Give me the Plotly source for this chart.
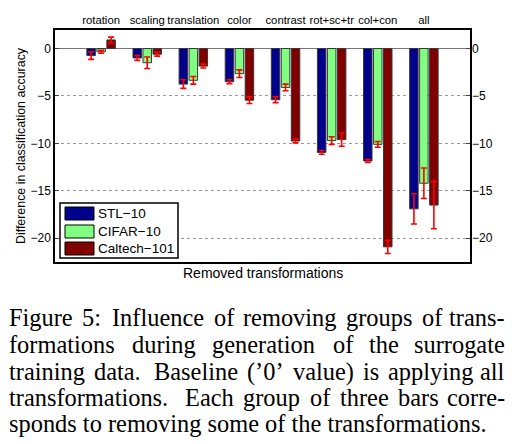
import plotly.graph_objects as go

groups = ["rotation", "scaling", "translation", "color", "contrast",
          "rot+sc+tr", "col+con", "all"]
stl = [-0.75, -1.0, -3.75, -3.5, -5.4, -10.95, -11.85, -16.9]
stl_err = [0.4, 0.25, 0.45, 0.2, 0.3, 0.2, 0.15, 1.6]
cifar = [-0.35, -1.5, -3.35, -2.65, -4.1, -9.7, -10.1, -14.2]
cifar_err = [0.15, 0.6, 0.4, 0.4, 0.35, 0.4, 0.3, 1.6]
caltech = [0.9, -0.6, -1.85, -5.45, -9.75, -9.6, -20.9, -16.5]
caltech_err = [0.3, 0.2, 0.2, 0.35, 0.2, 0.7, 0.7, 2.5]

names = ["STL\u221210", "CIFAR\u221210", "Caltech\u2212101"]
colors = ["#00008c", "#80ff80", "#800000"]

yticks = [0, -5, -10, -15, -20]
ytext = ["0", "\u22125", "\u221210", "\u221215", "\u221220"]

caption = [
    "Figure 5: Influence of removing groups of trans-",
    "formations during generation of the surrogate",
    "training data. Baseline (\u20190\u2019 value) is applying all",
    "transformations. Each group of three bars corre-",
    "sponds to removing some of the transformations.",
]
line_end = [506, 506, 506, 506, None]   # last line is not justified
line_base = [326, 353, 380, 406, 432]

sans = "Liberation Sans, Arial, sans-serif"
serif = "Liberation Serif, Times New Roman, serif"
CAP = 24.4  # caption font size

# page body has an 8px margin, so everything sits 8px lower/righter
OFF = 8
# plot area in pixels of the reference picture
L, R, T, B = 55, 470, 30, 262


def px(x):
    return (x - L) / (R - L)


def py(y):
    return (B - y) / (B - T)


# Times advance widths (1/1000 em) used to justify the caption lines
TIMES = dict(zip("abcdefghijklmnopqrstuvwxyz",
                 [444, 500, 444, 500, 444, 333, 500, 500, 278, 278, 500, 278, 778,
                  500, 500, 500, 500, 333, 389, 278, 500, 500, 722, 500, 500, 444]))
TIMES.update({"B": 667, "E": 611, "F": 556, "I": 333, ":": 278, ".": 250, "-": 333,
              "(": 333, ")": 333, "\u2019": 333, " ": 250})


def text_w(s):
    # rendered text comes out a touch wider than the nominal metrics
    return sum(TIMES.get(c, 500) for c in s) / 1000 * CAP * 1.012


fig = go.Figure()
for name, vals, errs, col in zip(names, [stl, cifar, caltech],
                                 [stl_err, cifar_err, caltech_err], colors):
    fig.add_trace(go.Bar(x=list(range(len(groups))), y=vals, name=name,
                         marker=dict(color=col, line=dict(color="#383838", width=1)),
                         error_y=dict(type="data", array=errs, color="red",
                                      thickness=1.6, width=3),
                         showlegend=False))

# invisible trace to carry the right axis
fig.add_trace(go.Scatter(x=[0], y=[0], yaxis="y2", mode="markers",
                         marker=dict(opacity=0), showlegend=False, hoverinfo="skip"))

fig.update_layout(
    width=516, height=444,
    margin=dict(l=L - OFF, r=516 - R + OFF, t=T - OFF, b=444 - B + OFF),
    paper_bgcolor="white", plot_bgcolor="white",
    barmode="group", bargap=0.35, bargroupgap=0.15,
    font=dict(family=sans, size=12, color="black"),
    xaxis=dict(range=[-1, 8], side="top", tickmode="array",
               tickvals=list(range(len(groups))), ticktext=groups,
               tickangle=0, ticks="", ticklen=0, showgrid=False, showline=True,
               mirror=True, linecolor="black", linewidth=1.5,
               tickfont=dict(size=11.3), automargin=False),
    yaxis=dict(range=[-22.5, 1.95], tickvals=yticks, ticktext=ytext,
               ticks="inside", ticklen=4,
               showline=True, mirror=True, linecolor="black", linewidth=1.5,
               showgrid=True, gridcolor="#999999", griddash="dot", gridwidth=1,
               zeroline=True, zerolinecolor="#777777", zerolinewidth=1,
               tickfont=dict(size=12), automargin=False,
               title=dict(text="Difference in classification accuracy",
                          font=dict(size=12.4), standoff=2)),
    yaxis2=dict(range=[-22.5, 1.95], tickvals=yticks, ticktext=ytext,
                overlaying="y", side="right", ticks="inside", ticklen=4,
                showgrid=False, zeroline=False, automargin=False,
                tickfont=dict(size=12), ticklabelstandoff=1),
)

# legend drawn as in the original figure (wide colour swatches)
fig.add_shape(type="rect", xref="paper", yref="paper",
              x0=px(60), x1=px(178), y0=py(258), y1=py(203),
              line=dict(color="black", width=1.5), fillcolor="white")
sw_y = [(207, 220), (225, 238), (242, 255)]
for (a, b), name, col in zip(sw_y, names, colors):
    fig.add_shape(type="rect", xref="paper", yref="paper",
                  x0=px(65), x1=px(94), y0=py(b), y1=py(a),
                  line=dict(color="black", width=1), fillcolor=col)
    fig.add_annotation(text=name, xref="paper", yref="paper",
                       x=px(96), y=py((a + b) / 2), showarrow=False,
                       xanchor="left", yanchor="middle", font=dict(size=13.5))

fig.add_annotation(text="Removed transformations", xref="paper", yref="paper",
                   x=px(263), y=py(273), showarrow=False,
                   font=dict(size=14), xanchor="center", yanchor="middle")

cap_font = dict(family=serif, size=CAP)
# justified caption: stretch the gaps, more after '.' and ':' as TeX does;
# the last word of each line is pinned to the right edge
for line, right, base in zip(caption, line_end, line_base):
    ymid = py(base - 0.34 * CAP)
    if right is None:
        fig.add_annotation(text=line, xref="paper", yref="paper", x=px(8), y=ymid,
                           showarrow=False, xanchor="left", yanchor="middle",
                           borderpad=0, font=cap_font)
        continue
    words = line.split()
    gaps = words[:-1]
    weights = [3 if w.endswith(".") else 2 if w.endswith(":") else 1 for w in gaps]
    natural = sum(text_w(w) for w in words) + text_w(" ") * len(gaps)
    free = (right - 8) - natural
    x = 8
    for i, w in enumerate(words):
        last = i == len(words) - 1
        fig.add_annotation(text=w, xref="paper", yref="paper",
                           x=px(right if last else x), y=ymid, showarrow=False,
                           xanchor="right" if last else "left", yanchor="middle",
                           borderpad=0, font=cap_font)
        if not last:
            x += text_w(w) + text_w(" ") + free * weights[i] / sum(weights)

fig.write_html("out.html")
